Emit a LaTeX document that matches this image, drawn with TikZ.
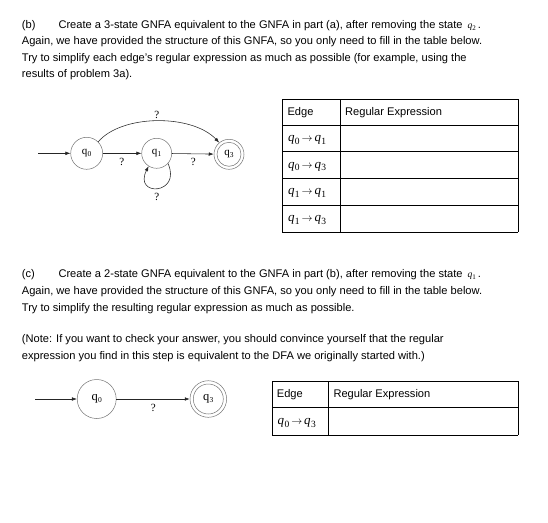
\documentclass[tikz,border=0pt]{standalone}
\usepackage{fontspec}
\setmainfont{Liberation Sans}
\newfontfamily\serifx{Liberation Serif}
\usetikzlibrary{arrows.meta}
\newcommand{\qv}[1]{{\serifx\itshape q\kern0.2pt\raisebox{-2pt}{\fontsize{7}{7}\selectfont\upshape #1}}}
\newcommand{\qt}[1]{{\serifx\fontsize{13}{13}\selectfont\itshape q\kern0.3pt\raisebox{-2.6pt}{\fontsize{9.5}{9.5}\selectfont\upshape #1}}}
\newcommand{\edq}[2]{\qt{#1}\kern2pt{\fontsize{11}{11}\selectfont$\rightarrow$}\kern2pt\qt{#2}}
\newcommand{\stl}[1]{{\serifx q\kern0.2pt\raisebox{-1.8pt}{\fontsize{7.5}{7.5}\selectfont #1}}}
\begin{document}
\begin{tikzpicture}[x=1pt,y=-1pt,
  txt/.style={anchor=base west, inner sep=0pt, font=\fontsize{11.1}{13}\selectfont},
  st/.style={circle, draw=black!55, line width=0.5pt, inner sep=0pt, font=\serifx\fontsize{11}{11}\selectfont},
  arr/.style={-{Latex[length=5pt,width=3.6pt]}, line width=0.55pt, draw=black!85},
  qm/.style={inner sep=0pt, font=\serifx\fontsize{11}{11}\selectfont},
  tl/.style={line width=0.8pt},
  cell/.style={anchor=base west, inner sep=0pt, font=\fontsize{11.1}{13}\selectfont},
  mcell/.style={anchor=base west, inner sep=0pt}]
\useasboundingbox (0,0) rectangle (548,522);
% ---------- part (b) text
\node[txt] (b0) at (21.7,28.3) {(b)};
\node[txt] (b1) at (58.3,28.3) {Create a 3-state GNFA equivalent to the GNFA in part (a), after removing the state \,{\fontsize{9.5}{9.5}\selectfont\qv{2}}\,.};
\node[txt] (b2) at (21.7,44.8) {Again, we have provided the structure of this GNFA, so you only need to fill in the table below.};
\node[txt] (b3) at (21.7,61.2) {Try to simplify each edge's regular expression as much as possible (for example, using the};
\node[txt] (b4) at (21.7,77.6) {results of problem 3a).};
% ---------- diagram (b)
\node[st, minimum size=32pt] (p0) at (86.7,153.3) {\stl{0}};
\node[st, minimum size=30pt] (p1) at (156.7,153.3) {\stl{1}};
\node[st, minimum size=30pt] (p3) at (229,154.3) {\stl{3}};
\node[circle, draw=black!55, line width=0.5pt, minimum size=24pt, inner sep=0pt] (p3i) at (p3.center) {};
\coordinate (pin) at (38,153.3);
\draw[arr] (pin) -- (p0);
\draw[arr] (p0) -- (p1);
\draw[arr] (p1) -- (p3);
\draw[arr] (p0.45) .. controls (122,114) and (192,114) .. (p3.130);
\draw[arr] (p1.318) .. controls (182,195) and (133,197) .. (p1.238);
\node[qm] (lt) at (156.7,115) {?};
\node[qm] (l01) at (121.7,162) {?};
\node[qm] (l13) at (193.3,162) {?};
\node[qm] (l11) at (156.7,197) {?};
% ---------- table (b)
\draw[tl] (282,99) -- (518,99);
\draw[tl] (282,125) -- (518,125);
\draw[tl] (282,151.7) -- (518,151.7);
\draw[tl] (282,178.3) -- (518,178.3);
\draw[tl] (282,205) -- (518,205);
\draw[tl] (282,232) -- (518,232);
\draw[tl] (282,99) -- (282,232);
\draw[tl] (340.7,99) -- (340.7,232);
\draw[tl] (518,99) -- (518,232);
\node[cell] (he) at (287.3,115) {Edge};
\node[cell] (hr) at (345,115) {Regular Expression};
\node[mcell] (r1) at (287.8,141.5) {\edq{0}{1}};
\node[mcell] (r2) at (287.8,168.2) {\edq{0}{3}};
\node[mcell] (r3) at (287.8,194.8) {\edq{1}{1}};
\node[mcell] (r4) at (287.8,221.5) {\edq{1}{3}};
% ---------- part (c) text
\node[txt] (c0) at (21.7,277.3) {(c)};
\node[txt] (c1) at (58.3,277.3) {Create a 2-state GNFA equivalent to the GNFA in part (b), after removing the state \,{\fontsize{9.5}{9.5}\selectfont\qv{1}}\,.};
\node[txt] (c2) at (21.7,294.3) {Again, we have provided the structure of this GNFA, so you only need to fill in the table below.};
\node[txt] (c3) at (21.7,311.3) {Try to simplify the resulting regular expression as much as possible.};
\node[txt] (c4) at (21.7,342.3) {(Note: If you want to check your answer, you should convince yourself that the regular};
\node[txt] (c5) at (21.7,359.3) {expression you find in this step is equivalent to the DFA we originally started with.)};
% ---------- diagram (c)
\node[st, minimum size=39pt, font=\serifx\fontsize{12.5}{12.5}\selectfont] (s0) at (96.7,399) {\stl{0}};
\node[st, minimum size=36.6pt, font=\serifx\fontsize{12.5}{12.5}\selectfont] (s3) at (208.3,399) {\stl{3}};
\node[circle, draw=black!55, line width=0.5pt, minimum size=30pt, inner sep=0pt] (s3i) at (s3.center) {};
\coordinate (sin) at (35,399);
\draw[arr] (sin) -- (s0);
\draw[arr] (s0) -- (s3);
\node[qm] (l03) at (153.3,407.5) {?};
% ---------- table (c)
\draw[tl] (272,381) -- (518,381);
\draw[tl] (272,407.7) -- (518,407.7);
\draw[tl] (272,435) -- (518,435);
\draw[tl] (272,381) -- (272,435);
\draw[tl] (328,381) -- (328,435);
\draw[tl] (518,381) -- (518,435);
\node[cell] (ce) at (276.7,397.7) {Edge};
\node[cell] (cr) at (333.3,397.7) {Regular Expression};
\node[mcell] (cq) at (277.5,424.5) {\edq{0}{3}};
\end{tikzpicture}
\end{document}
